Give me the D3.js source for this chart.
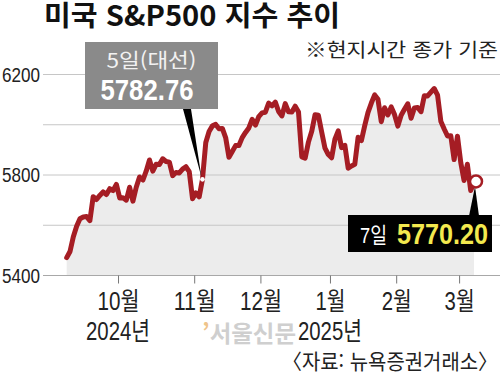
<!DOCTYPE html>
<html lang="ko">
<head>
<meta charset="UTF-8">
<title>미국 S&P500 지수 추이</title>
<script src="https://d3js.org/d3.v7.min.js"></script>
<style>
  body { margin: 0; background: #fff; }
  svg { display: block; }
  .kr { font-family: "Noto Sans CJK KR", "Noto Sans", sans-serif; }
  .num { font-family: "Liberation Sans Narrow", "Arial Narrow", "Liberation Sans", "Noto Sans CJK KR", sans-serif; }
</style>
</head>
<body>
<svg id="chart" width="500" height="377"></svg>
<script>
// trading days, 2024-09-09 .. 2025-03-07
const dates = [
  "2024-09-09","2024-09-10","2024-09-11","2024-09-12","2024-09-13","2024-09-16","2024-09-17","2024-09-18","2024-09-19","2024-09-20",
  "2024-09-23","2024-09-24","2024-09-25","2024-09-26","2024-09-27","2024-09-30",
  "2024-10-01","2024-10-02","2024-10-03","2024-10-04","2024-10-07","2024-10-08","2024-10-09","2024-10-10","2024-10-11","2024-10-14",
  "2024-10-15","2024-10-16","2024-10-17","2024-10-18","2024-10-21","2024-10-22","2024-10-23","2024-10-24","2024-10-25","2024-10-28",
  "2024-10-29","2024-10-30","2024-10-31",
  "2024-11-01","2024-11-04","2024-11-05","2024-11-06","2024-11-07","2024-11-08","2024-11-11","2024-11-12","2024-11-13","2024-11-14",
  "2024-11-15","2024-11-18","2024-11-19","2024-11-20","2024-11-21","2024-11-22","2024-11-25","2024-11-26","2024-11-27","2024-11-29",
  "2024-12-02","2024-12-03","2024-12-04","2024-12-05","2024-12-06","2024-12-09","2024-12-10","2024-12-11","2024-12-12","2024-12-13",
  "2024-12-16","2024-12-17","2024-12-18","2024-12-19","2024-12-20","2024-12-23","2024-12-24","2024-12-26","2024-12-27","2024-12-30",
  "2024-12-31",
  "2025-01-02","2025-01-03","2025-01-06","2025-01-07","2025-01-08","2025-01-10","2025-01-13","2025-01-14","2025-01-15","2025-01-16",
  "2025-01-17","2025-01-21","2025-01-22","2025-01-23","2025-01-24","2025-01-27","2025-01-28","2025-01-29","2025-01-30","2025-01-31",
  "2025-02-03","2025-02-04","2025-02-05","2025-02-06","2025-02-07","2025-02-10","2025-02-11","2025-02-12","2025-02-13","2025-02-14",
  "2025-02-18","2025-02-19","2025-02-20","2025-02-21","2025-02-24","2025-02-25","2025-02-26","2025-02-27","2025-02-28",
  "2025-03-03","2025-03-04","2025-03-05","2025-03-06","2025-03-07"
];

const closes = [
  5471.05,5495.52,5554.13,5595.76,5626.02,5633.09,5634.58,5618.26,5713.64,5702.55,
  5718.57,5732.93,5722.26,5745.37,5738.17,5762.48,
  5708.75,5709.54,5699.94,5751.07,5695.94,5751.13,5792.04,5780.05,5815.03,5859.85,
  5815.26,5842.47,5841.47,5864.67,5853.98,5851.20,5797.42,5809.86,5808.12,5823.52,
  5832.92,5813.67,5705.45,
  5728.80,5712.69,5782.76,5929.04,5973.10,5995.54,6001.35,5983.99,5985.38,5949.17,
  5870.62,5893.62,5916.98,5917.11,5948.71,5969.34,5987.37,6021.63,5998.74,6032.38,
  6047.15,6049.88,6086.49,6075.11,6090.27,6052.85,6034.91,6084.19,6051.25,6051.09,
  6074.08,6050.61,5872.16,5867.08,5930.85,5974.07,6040.04,6037.59,5970.84,5906.94,
  5881.63,
  5868.55,5942.47,5975.38,5909.03,5918.25,5827.04,5836.22,5842.91,5949.91,5937.34,
  5996.66,6049.24,6086.37,6118.71,6101.24,6012.28,6067.70,6039.31,6071.17,6040.53,
  5994.57,6037.88,6061.48,6083.57,6025.99,6066.44,6068.50,6051.97,6115.07,6114.63,
  6129.58,6144.15,6117.52,6013.13,5983.25,5955.25,5956.06,5861.57,5954.50,
  5849.72,5778.15,5842.63,5738.52,5770.20
];

const monthLabels = ["10월", "11월", "12월", "1월", "2월", "3월"];
const monthStarts = ["2024-10", "2024-11", "2024-12", "2025-01", "2025-02", "2025-03"];
const yearLabels = ["2024년", "2025년"];
const yearUnder = ["2024-10", "2025-01"];
const gridValues = [5400, 5600, 5800, 6000, 6200];
const yLabels = [5400, 5800, 6200];

const electionDate = "2024-11-05";

const svg = d3.select("#chart");

const x = d3.scaleLinear().domain([0, dates.length - 1]).range([66.7, 474]);
const y = d3.scaleLinear().domain([5400, 6200]).range([275.5, 74.5]);

const idxOf = d => dates.indexOf(d);
const firstIdx = m => dates.findIndex(d => d.startsWith(m));

// area under the line
const area = d3.area()
  .x((d, i) => x(i))
  .y0(y(5400))
  .y1(d => y(d));

svg.append("path")
  .datum(closes)
  .attr("fill", "#ececec")
  .attr("d", area);

// grid
svg.append("g")
  .selectAll("line")
  .data(gridValues)
  .join("line")
  .attr("x1", 43).attr("x2", 500)
  .attr("y1", d => y(d)).attr("y2", d => y(d))
  .attr("stroke", d => d === 5400 ? "#a8a8a8" : "#c6c6c6")
  .attr("stroke-width", 1);

// y labels
svg.append("g")
  .selectAll("text")
  .data(yLabels)
  .join("text")
  .attr("class", "num")
  .attr("x", 40)
  .attr("y", d => y(d) + 7)
  .attr("text-anchor", "end")
  .attr("font-size", 20)
  .attr("fill", "#222")
  .attr("textLength", 38)
  .attr("lengthAdjust", "spacingAndGlyphs")
  .text(d => d);

// x axis ticks
const tickIdx = monthStarts.map(m => firstIdx(m) - 0.5);
const xAxis = d3.axisBottom(x)
  .tickValues(tickIdx)
  .tickFormat((d, i) => monthLabels[i])
  .tickSize(8)
  .tickPadding(6);

const gx = svg.append("g")
  .attr("transform", `translate(0,${y(5400)})`)
  .call(xAxis);
gx.select(".domain").remove();
gx.selectAll(".tick line").attr("stroke", "#777");
gx.selectAll(".tick text")
  .attr("class", "num")
  .attr("font-size", 25)
  .attr("fill", "#222")
  .attr("y", 34)
  .attr("dy", 0)
  .attr("textLength", (d, i) => monthLabels[i].length === 3 ? 42 : 30)
  .attr("lengthAdjust", "spacingAndGlyphs");

// year labels
svg.append("g")
  .selectAll("text")
  .data(yearLabels)
  .join("text")
  .attr("class", "num")
  .attr("x", (d, i) => x(firstIdx(yearUnder[i]) - 0.5))
  .attr("y", 340)
  .attr("text-anchor", "middle")
  .attr("font-size", 25)
  .attr("fill", "#222")
  .attr("textLength", 64)
  .attr("lengthAdjust", "spacingAndGlyphs")
  .text(d => d);

// watermark
const wm = svg.append("text")
  .attr("class", "kr")
  .attr("x", 202)
  .attr("y", 342)
  .attr("font-size", 23)
  .attr("font-weight", "bold")
  .attr("fill", "#cfcfcf")
  .attr("textLength", 94)
  .attr("lengthAdjust", "spacingAndGlyphs");
wm.append("tspan").attr("fill", "#efc48a").text("’");
wm.append("tspan").text("서울신문");

// index line
const line = d3.line()
  .x((d, i) => x(i))
  .y(d => y(d));

svg.append("path")
  .datum(closes)
  .attr("fill", "none")
  .attr("stroke", "#a51d24")
  .attr("stroke-width", 5)
  .attr("stroke-linejoin", "round")
  .attr("stroke-linecap", "round")
  .attr("d", line);

// election day callout
const ei = idxOf(electionDate);
const ex = x(ei), ey = y(closes[ei]);

svg.append("path")
  .attr("d", `M183,109 L191,109 L${ex - 1},${ey - 2} Z`)
  .attr("fill", "#000");

svg.append("rect")
  .attr("x", 85).attr("y", 42)
  .attr("width", 133).attr("height", 67)
  .attr("fill", "#8a8a8a");

svg.append("text")
  .attr("class", "kr")
  .attr("x", 151.5).attr("y", 68)
  .attr("text-anchor", "middle")
  .attr("font-size", 20)
  .attr("fill", "#f2f2f2")
  .attr("textLength", 90)
  .attr("lengthAdjust", "spacingAndGlyphs")
  .text("5일(대선)");

svg.append("text")
  .attr("class", "num")
  .attr("x", 147).attr("y", 100)
  .attr("text-anchor", "middle")
  .attr("font-size", 30)
  .attr("font-weight", "bold")
  .attr("fill", "#fff")
  .attr("textLength", 93)
  .attr("lengthAdjust", "spacingAndGlyphs")
  .text(closes[ei].toFixed(2));

svg.append("circle")
  .attr("cx", ex).attr("cy", ey)
  .attr("r", 2.3)
  .attr("fill", "#fff");

// last day callout
const li = closes.length - 1;
const lx = x(li), ly = y(closes[li]);

svg.append("path")
  .attr("d", `M${lx - 5},216 L${lx + 5},216 L${lx + 1},${ly + 4} Z`)
  .attr("fill", "#000");

svg.append("rect")
  .attr("x", 348).attr("y", 215)
  .attr("width", 144).attr("height", 37)
  .attr("fill", "#000");

svg.append("text")
  .attr("class", "num")
  .attr("x", 360).attr("y", 243)
  .attr("font-size", 22)
  .attr("fill", "#fff")
  .attr("textLength", 27)
  .attr("lengthAdjust", "spacingAndGlyphs")
  .text("7일");

svg.append("text")
  .attr("class", "num")
  .attr("x", 397).attr("y", 244)
  .attr("font-size", 29)
  .attr("font-weight", "bold")
  .attr("fill", "#f3e94e")
  .attr("textLength", 91)
  .attr("lengthAdjust", "spacingAndGlyphs")
  .text(closes[li].toFixed(2));

svg.append("circle")
  .attr("cx", lx + 2).attr("cy", ly - 1)
  .attr("r", 6)
  .attr("fill", "#fff")
  .attr("stroke", "#a51d24")
  .attr("stroke-width", 2.5);

// title and notes
svg.append("text")
  .attr("class", "kr")
  .attr("x", 44).attr("y", 26)
  .attr("font-size", 28)
  .attr("font-weight", "bold")
  .attr("fill", "#111")
  .attr("textLength", 296)
  .attr("lengthAdjust", "spacingAndGlyphs")
  .text("미국 S&P500 지수 추이");

svg.append("text")
  .attr("class", "kr")
  .attr("x", 305).attr("y", 57)
  .attr("font-size", 19)
  .attr("fill", "#222")
  .attr("textLength", 193)
  .attr("lengthAdjust", "spacingAndGlyphs")
  .text("※현지시간 종가 기준");

svg.append("text")
  .attr("class", "kr")
  .attr("x", 282).attr("y", 369)
  .attr("font-size", 21)
  .attr("fill", "#222")
  .attr("textLength", 216)
  .attr("lengthAdjust", "spacingAndGlyphs")
  .text("〈자료: 뉴욕증권거래소〉");
</script>
</body>
</html>
